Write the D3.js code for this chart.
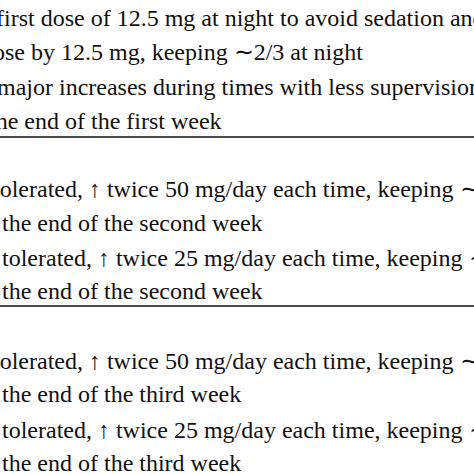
<!DOCTYPE html><html><head><script src="https://cdn.jsdelivr.net/npm/d3@7"></script>
<style>body{margin:0;background:#fff}</style></head><body><script>
const lines=["first dose of 12.5 mg at night to avoid sedation and","dose by 12.5 mg, keeping \u223C2/3 at night","major increases during times with less supervision","the end of the first week","tolerated, \u2191 twice 50 mg/day each time, keeping \u223C2/3","the end of the second week","tolerated, \u2191 twice 25 mg/day each time, keeping \u223C2/3","the end of the second week","tolerated, \u2191 twice 50 mg/day each time, keeping \u223C2/3","the end of the third week","tolerated, \u2191 twice 25 mg/day each time, keeping \u223C2/3","the end of the third week"];
const xs=[-4,-19,-3,-11,-7,2,2,2,-7,2,2,2];
const ys=[26,60,95,129,197,231,266,299,369,402,438,471];
const rules=[137,306];
const svg=d3.select("body").append("svg").attr("width",474).attr("height",474);
svg.selectAll("text").data(lines).join("text").attr("x",(d,i)=>xs[i]).attr("y",(d,i)=>ys[i])
 .attr("font-family","Liberation Serif").attr("font-size",24).attr("fill","#111").text(d=>d);
svg.selectAll("line").data(rules).join("line").attr("x1",0).attr("x2",474).attr("y1",d=>d).attr("y2",d=>d).attr("stroke","#111").attr("stroke-width",1.6);
</script></body></html>
